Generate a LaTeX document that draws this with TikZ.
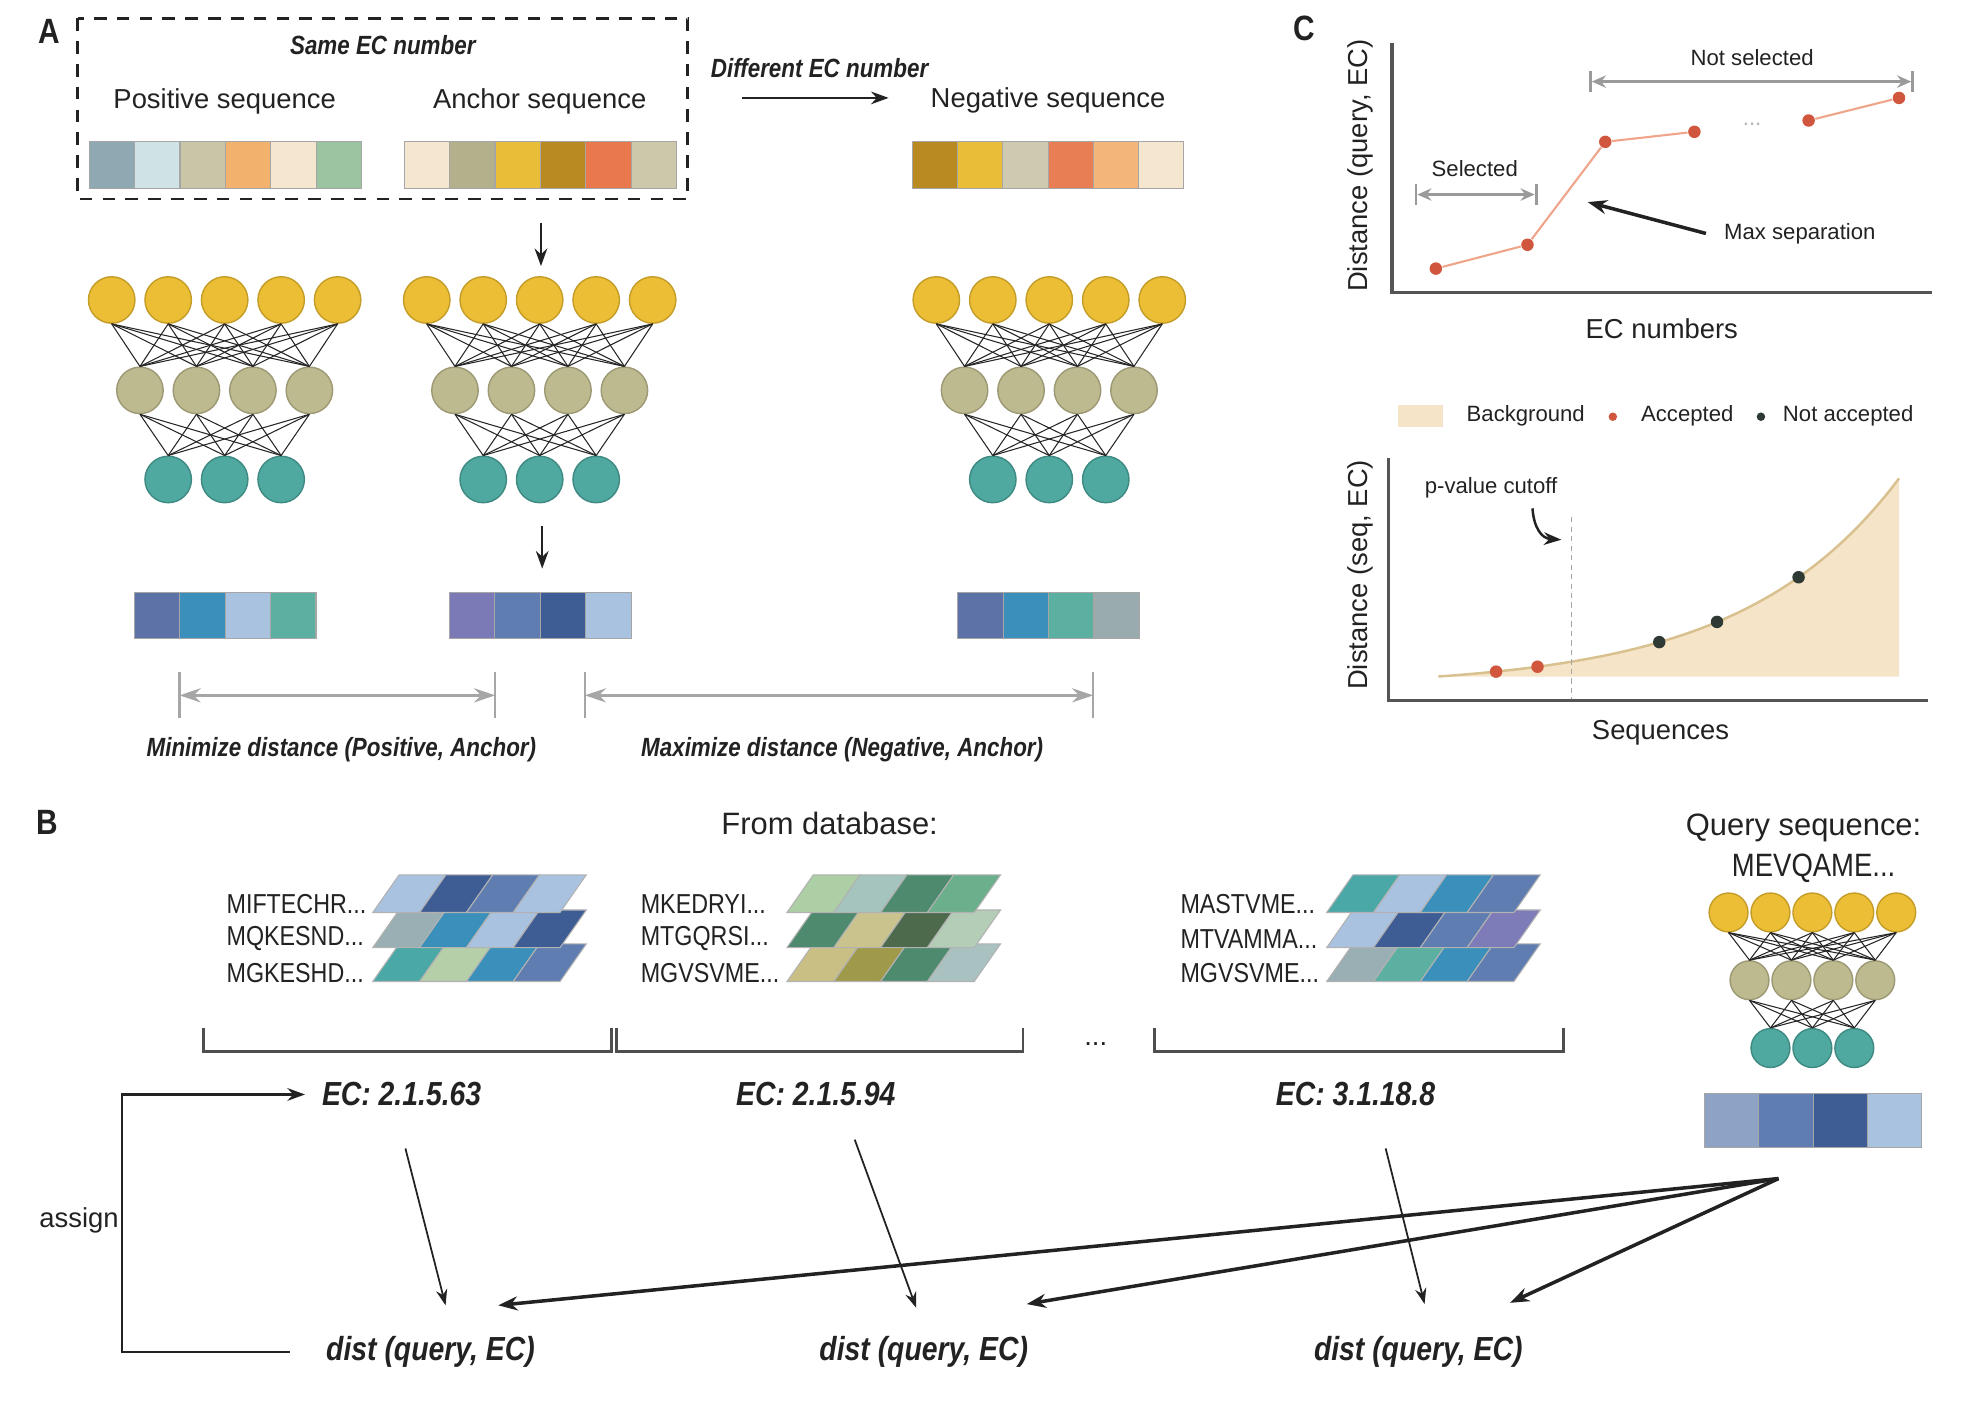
\documentclass[tikz,border=0pt]{standalone}
\usepackage{fontspec}
\setmainfont{Liberation Sans}
\newfontfamily\narrowsans[FakeStretch=0.85]{Liberation Sans}
\usetikzlibrary{arrows.meta}

% palette
\definecolor{ink}{HTML}{222222}
\definecolor{gold}{HTML}{EBBE35}
\definecolor{golddk}{HTML}{C49C28}
\definecolor{khaki}{HTML}{BDBA90}
\definecolor{khakidk}{HTML}{9C9974}
\definecolor{tealU}{HTML}{4FA9A0}
\definecolor{tealdk}{HTML}{3E8A83}
\definecolor{sGrey}{HTML}{8FA9B3}
\definecolor{sIce}{HTML}{CFE2E6}
\definecolor{sSand}{HTML}{C9C6A8}
\definecolor{sApricot}{HTML}{F2B26E}
\definecolor{sCream}{HTML}{F5E7CF}
\definecolor{sSage}{HTML}{9CC4A0}
\definecolor{sOlive}{HTML}{B3B08C}
\definecolor{sYellow}{HTML}{E9BD38}
\definecolor{sMustard}{HTML}{B98A22}
\definecolor{sCoral}{HTML}{E9784C}
\definecolor{sKhaki}{HTML}{CDC8A9}
\definecolor{sStone}{HTML}{CDCAB0}
\definecolor{sSalmon}{HTML}{E87E54}
\definecolor{sPeach}{HTML}{F3B578}
\definecolor{eSlate}{HTML}{5D72A6}
\definecolor{eBlue}{HTML}{3A90BA}
\definecolor{eSky}{HTML}{A9C2DF}
\definecolor{eTeal}{HTML}{5BB0A2}
\definecolor{ePurple}{HTML}{7B7AB6}
\definecolor{eMid}{HTML}{5F7DB1}
\definecolor{eNavy}{HTML}{3F5D95}
\definecolor{eGrey}{HTML}{9AABB0}
\definecolor{eMist}{HTML}{8EA2C6}
\definecolor{eSea}{HTML}{4AA8A6}
\definecolor{eLime}{HTML}{B5CFA8}
\definecolor{eMint}{HTML}{ADCFA5}
\definecolor{eAqua}{HTML}{A5C4BE}
\definecolor{eForest}{HTML}{4E8A6E}
\definecolor{eJade}{HTML}{6CAF8C}
\definecolor{eWheat}{HTML}{CAC38E}
\definecolor{eMoss}{HTML}{4D6A4D}
\definecolor{eFog}{HTML}{B3CDB7}
\definecolor{eStraw}{HTML}{C9BF85}
\definecolor{eOlive}{HTML}{9F9A49}
\definecolor{eHaze}{HTML}{A9C1C1}
\definecolor{eLilac}{HTML}{7D7BB8}
\definecolor{eSteel}{HTML}{9AAFB4}
\definecolor{cDot}{HTML}{D0573D}
\definecolor{cLine}{HTML}{F0A58A}
\definecolor{cBg}{HTML}{F6E4C8}
\definecolor{cCurve}{HTML}{D8C08F}
\definecolor{cDark}{HTML}{2E3A33}
\definecolor{cAxis}{HTML}{555555}
\definecolor{cGrey}{HTML}{9A9A9A}

\tikzset{
  txt/.style={inner sep=0pt,text=ink,font=\fontsize{7.8}{9}\selectfont},
  head/.style={txt,font=\fontsize{8.8}{10}\selectfont},
  smalltxt/.style={txt,font=\fontsize{6.3}{7.5}\selectfont},
  emA/.style={txt,font=\narrowsans\bfseries\itshape\fontsize{7.5}{9}\selectfont},
  emB/.style={txt,font=\narrowsans\bfseries\itshape\fontsize{9.5}{11}\selectfont},
  seqname/.style={txt,anchor=west,font=\narrowsans\fontsize{7.8}{9}\selectfont},
  seqQ/.style={txt,font=\narrowsans\fontsize{9.2}{11}\selectfont},
  panel/.style={txt,font=\narrowsans\bfseries\fontsize{10}{12}\selectfont},
  cellA/.style={rectangle,inner sep=0pt,draw=black!35,line width=0.3pt,
    minimum width=0.454cm,minimum height=0.471cm},
  cellO/.style={cellA,minimum height=0.464cm},
  cellQ/.style={cellA,minimum width=0.543cm,minimum height=0.540cm},
  tile/.style={draw=black!30,line width=0.3pt},
  unitA/.style={circle,inner sep=0pt,minimum size=0.465cm,line width=0.4pt},
  unitQ/.style={unitA,minimum size=0.389cm},
  inL/.style={fill=gold,draw=golddk},
  hidL/.style={fill=khaki,draw=khakidk},
  outL/.style={fill=tealU,draw=tealdk},
  wire/.style={draw=black!85,line width=0.3pt},
  arr/.style={-{Stealth[length=5pt,width=3.6pt]},line width=0.7pt,draw=ink},
  thinarr/.style={-{Stealth[length=4.5pt,width=3.2pt]},line width=0.5pt,draw=ink},
  bigarr/.style={-{Stealth[length=5.5pt,width=4pt]},line width=1pt,draw=ink},
  gap/.style={<->,>={Stealth[length=6pt,width=4pt]},draw=gray!70,line width=0.9pt},
  gaptick/.style={draw=gray!70,line width=0.6pt},
  span/.style={|<->|,>={Stealth[length=4pt,width=3.5pt]},draw=cGrey,line width=0.8pt},
  brk/.style={draw=ink!80,line width=0.8pt},
  dashbox/.style={draw=ink,line width=0.8pt,dash pattern=on 3.6pt off 2.9pt},
  axis/.style={draw=cAxis,line width=0.9pt},
  ecdot/.style={circle,fill=cDot,inner sep=0pt,minimum size=0.125cm},
  nadot/.style={circle,fill=cDark,inner sep=0pt,minimum size=0.125cm},
  ecline/.style={draw=cLine,line width=0.6pt}
}

\begin{document}
\begin{tikzpicture}[x=0.012551cm,y=-0.012551cm]
\useasboundingbox (0,0) rectangle (1568,1131);

% ---------- A ----------
\node[panel] (lA) at (39,25) {A};
\draw[dashbox] (62,14.5) rectangle (548,158.5);
\node[emA] (same) at (305,36) {Same EC number};
\node[txt] (posl) at (179,81) {Positive sequence};
\node[txt] (ancl) at (430,81) {Anchor sequence};
\node[emA] (diff) at (653,54) {Different EC number};
\node[txt] (negl) at (835,80) {Negative sequence};
\coordinate (diff0) at (591,78);
\coordinate (diff1) at (708,78);
\draw[arr] (diff0) -- (diff1);

\foreach \c [count=\i] in {sGrey,sIce,sSand,sApricot,sCream,sSage}
  \node[cellA,fill=\c] (ps\i) at ({89.1+(\i-1)*36.2},131.7) {};
\foreach \c [count=\i] in {sCream,sOlive,sYellow,sMustard,sCoral,sKhaki}
  \node[cellA,fill=\c] (as\i) at ({340.1+(\i-1)*36.2},131.7) {};
\foreach \c [count=\i] in {sMustard,sYellow,sStone,sSalmon,sPeach,sCream}
  \node[cellA,fill=\c] (ns\i) at ({745.1+(\i-1)*36},131.7) {};

% encoders
\foreach \n/\cx in {p/179,a/430,g/836}{
  \foreach \i in {1,...,5}
    \node[unitA,inL] (\n-t\i) at ({\cx+(\i-3)*45},239) {};
  \foreach \i in {1,...,4}
    \node[unitA,hidL] (\n-m\i) at ({\cx+(\i-2.5)*45},311) {};
  \foreach \i in {1,...,3}
    \node[unitA,outL] (\n-b\i) at ({\cx+(\i-2)*45},382) {};
  \foreach \i in {1,...,5}
    \foreach \j in {1,...,4}
      \draw[wire] (\n-t\i.south) -- (\n-m\j.north);
  \foreach \i in {1,...,4}
    \foreach \j in {1,...,3}
      \draw[wire] (\n-m\i.south) -- (\n-b\j.north);
}
\coordinate (feed0) at (431,178);
\coordinate (feed1) at (431,212);
\draw[arr] (feed0) -- (feed1);
\coordinate (emb0) at (432,419);
\coordinate (emb1) at (432,453);
\draw[arr] (emb0) -- (emb1);

\foreach \c [count=\i] in {eSlate,eBlue,eSky,eTeal}
  \node[cellO,fill=\c] (po\i) at ({125.1+(\i-1)*36.2},490.5) {};
\foreach \c [count=\i] in {ePurple,eMid,eNavy,eSky}
  \node[cellO,fill=\c] (ao\i) at ({376.1+(\i-1)*36.2},490.5) {};
\foreach \c [count=\i] in {eSlate,eBlue,eTeal,eGrey}
  \node[cellO,fill=\c] (no\i) at ({781.1+(\i-1)*36.2},490.5) {};

\coordinate (mn0) at (143,554);
\coordinate (mn1) at (394.6,554);
\coordinate (mx0) at (466,554);
\coordinate (mx1) at (871,554);
\foreach \t in {mn0,mn1,mx0,mx1}
  \draw[gaptick] (\t) ++(0,-19) -- ++(0,37);
\draw[gap] (mn0) -- (mn1);
\draw[gap] (mx0) -- (mx1);
\node[emA] (minl) at (272,597) {Minimize distance (Positive, Anchor)};
\node[emA] (maxl) at (671,597) {Maximize distance (Negative, Anchor)};

% ---------- B ----------
\node[panel] (lB) at (38,655) {B};
\node[head] (fromdb) at (661,656) {From database:};
\node[head] (qseq) at (1437,660) {Query sequence:};
\node[seqQ] (qname) at (1445,692) {MEVQAME...};

\node[seqname] (s11) at (180,720) {MIFTECHR...};
\node[seqname] (s12) at (180,748) {MQKESND...};
\node[seqname] (s13) at (180,775) {MGKESHD...};
\node[seqname] (s21) at (510,720) {MKEDRYI...};
\node[seqname] (s22) at (510,748) {MTGQRSI...};
\node[seqname] (s23) at (510,775) {MGVSVME...};
\node[seqname] (s31) at (940,720) {MASTVME...};
\node[seqname] (s32) at (940,748) {MTVAMMA...};
\node[seqname] (s33) at (940,775) {MGVSVME...};

% stacked embeddings, bottom row first
\foreach \c [count=\i from 0] in {eSea,eLime,eBlue,eMid}
  \filldraw[tile,fill=\c] ({297+\i*37.3},782) -- ++(37.3,0) -- ++(21,-30) -- ++(-37.3,0) -- cycle;
\foreach \c [count=\i from 0] in {eSteel,eBlue,eSky,eNavy}
  \filldraw[tile,fill=\c] ({297+\i*37.3},755) -- ++(37.3,0) -- ++(21,-30) -- ++(-37.3,0) -- cycle;
\foreach \c [count=\i from 0] in {eSky,eNavy,eMid,eSky}
  \filldraw[tile,fill=\c] ({297+\i*37.3},727) -- ++(37.3,0) -- ++(21,-30) -- ++(-37.3,0) -- cycle;
\foreach \c [count=\i from 0] in {eStraw,eOlive,eForest,eHaze}
  \filldraw[tile,fill=\c] ({627+\i*37.3},782) -- ++(37.3,0) -- ++(21,-30) -- ++(-37.3,0) -- cycle;
\foreach \c [count=\i from 0] in {eForest,eWheat,eMoss,eFog}
  \filldraw[tile,fill=\c] ({627+\i*37.3},755) -- ++(37.3,0) -- ++(21,-30) -- ++(-37.3,0) -- cycle;
\foreach \c [count=\i from 0] in {eMint,eAqua,eForest,eJade}
  \filldraw[tile,fill=\c] ({627+\i*37.3},727) -- ++(37.3,0) -- ++(21,-30) -- ++(-37.3,0) -- cycle;
\foreach \c [count=\i from 0] in {eSteel,eTeal,eBlue,eMid}
  \filldraw[tile,fill=\c] ({1057+\i*37.3},782) -- ++(37.3,0) -- ++(21,-30) -- ++(-37.3,0) -- cycle;
\foreach \c [count=\i from 0] in {eSky,eNavy,eMid,eLilac}
  \filldraw[tile,fill=\c] ({1057+\i*37.3},755) -- ++(37.3,0) -- ++(21,-30) -- ++(-37.3,0) -- cycle;
\foreach \c [count=\i from 0] in {eSea,eSky,eBlue,eMid}
  \filldraw[tile,fill=\c] ({1057+\i*37.3},727) -- ++(37.3,0) -- ++(21,-30) -- ++(-37.3,0) -- cycle;

\draw[brk] (162,819) |- (487,838) -- (487,819);
\draw[brk] (491,819) |- (815,838) -- (815,819);
\draw[brk] (920,819) |- (1246,838) -- (1246,819);
\node[txt] (more) at (873,832) {...};

\node[emB] (ec1) at (320,872) {EC: 2.1.5.63};
\node[emB] (ec2) at (650,872) {EC: 2.1.5.94};
\node[emB] (ec3) at (1080,872) {EC: 3.1.18.8};
\node[emB] (dist1) at (343,1077) {dist (query, EC)};
\node[emB] (dist2) at (736,1077) {dist (query, EC)};
\node[emB] (dist3) at (1130,1077) {dist (query, EC)};

% query encoder
\foreach \i in {1,...,5}
  \node[unitQ,inL] (q-t\i) at ({1444+(\i-3)*33.4},727) {};
\foreach \i in {1,...,4}
  \node[unitQ,hidL] (q-m\i) at ({1444+(\i-2.5)*33.4},781) {};
\foreach \i in {1,...,3}
  \node[unitQ,outL] (q-b\i) at ({1444+(\i-2)*33.4},835) {};
\foreach \i in {1,...,5}
  \foreach \j in {1,...,4}
    \draw[wire] (q-t\i.south) -- (q-m\j.north);
\foreach \i in {1,...,4}
  \foreach \j in {1,...,3}
    \draw[wire] (q-m\i.south) -- (q-b\j.north);
\foreach \c [count=\i] in {eMist,eMid,eNavy,eSky}
  \node[cellQ,fill=\c] (qo\i) at ({1379.65+(\i-1)*43.3},892.5) {};

\coordinate (ecA0) at (323,915);
\coordinate (ecA1) at (355,1040);
\coordinate (ecB0) at (681,908);
\coordinate (ecB1) at (730,1042);
\coordinate (ecC0) at (1104,915);
\coordinate (ecC1) at (1135,1039);
\draw[thinarr] (ecA0) -- (ecA1);
\draw[thinarr] (ecB0) -- (ecB1);
\draw[thinarr] (ecC0) -- (ecC1);
\coordinate (qsrc) at (1417,939);
\coordinate (qA) at (397,1040);
\coordinate (qB) at (818,1039);
\coordinate (qC) at (1203,1038);
\draw[bigarr] (qsrc) -- (qA);
\draw[bigarr] (qsrc) -- (qB);
\draw[bigarr] (qsrc) -- (qC);

\coordinate (as1) at (231,1077);
\coordinate (as2) at (97,1077);
\coordinate (as3) at (97,872);
\coordinate (as4) at (243,872);
\draw[arr] (as1) -- (as2) -- (as3) -- (as4);
\node[txt] (asgn) at (63,972) {assign};

% ---------- C ----------
\node[panel] (lC) at (1039,23) {C};
\draw[axis] (1109,34) -- (1109,233) -- (1539,233);
\node[txt,rotate=90] (yl1) at (1084,132) {Distance (query, EC)};
\node[txt] (xl1) at (1324,262) {EC numbers};
\node[ecdot] (c1) at (1144,214) {};
\node[ecdot] (c2) at (1217,195) {};
\node[ecdot] (c3) at (1279,113) {};
\node[ecdot] (c4) at (1350,105) {};
\node[ecdot] (c5) at (1441,96) {};
\node[ecdot] (c6) at (1513,78) {};
\draw[ecline] (c1) -- (c2) -- (c3) -- (c4);
\draw[ecline] (c5) -- (c6);
\node[smalltxt,text=gray!60] (cdots) at (1396,99) {...};
\node[smalltxt] (sel) at (1175,134) {Selected};
\coordinate (sel0) at (1127,155);
\coordinate (sel1) at (1225,155);
\draw[span] (sel0) -- (sel1);
\node[smalltxt] (nsel) at (1396,46) {Not selected};
\coordinate (nsel0) at (1266,65);
\coordinate (nsel1) at (1525,65);
\draw[span] (nsel0) -- (nsel1);
\node[smalltxt] (maxsep) at (1434,186) {Max separation};
\coordinate (gapend) at (1265,161);
\draw[bigarr] ([xshift=-5pt]maxsep.west) -- (gapend);

\node[rectangle,fill=cBg,inner sep=0pt,minimum width=0.452cm,minimum height=0.213cm] (bgkey) at (1132,331.5) {};
\node[smalltxt,anchor=west] (bgl) at (1168,331.5) {Background};
\node[circle,fill=cDot,inner sep=0pt,minimum size=0.085cm] (acckey) at (1285,332) {};
\node[smalltxt,anchor=west] (accl) at (1307,331.5) {Accepted};
\node[circle,fill=cDark,inner sep=0pt,minimum size=0.085cm] (nakey) at (1403,332) {};
\node[smalltxt,anchor=west] (nal) at (1420,331.5) {Not accepted};

\fill[cBg] (1146,539) -- plot[domain=1146:1513,samples=60] (\x,{539-8.86*(exp(0.008*(\x-1146))-1)}) -- (1513,539) -- cycle;
\draw[cCurve,line width=0.7pt] plot[domain=1146:1513,samples=60] (\x,{539-8.86*(exp(0.008*(\x-1146))-1)});
\draw[gray!70,line width=0.5pt,dash pattern=on 1.5pt off 1.2pt] (1252,412) -- (1252,558);
\draw[axis] (1106,365) -- (1106,558) -- (1536,558);
\node[txt,rotate=90] (yl2) at (1084,458) {Distance (seq, EC)};
\node[txt] (xl2) at (1323,584) {Sequences};
\node[smalltxt] (pval) at (1188,389) {p-value cutoff};
\coordinate (pv0) at (1221,405);
\coordinate (pv1) at (1244,430);
\draw[arr] (pv0) .. controls (1222,420) and (1228,429) .. (pv1);
\node[ecdot] (s1) at (1192,535.1) {};
\node[ecdot] (s2) at (1225,531.2) {};
\node[nadot] (s3) at (1322,511.6) {};
\node[nadot] (s4) at (1368,495.5) {};
\node[nadot] (s5) at (1433,459.9) {};
\end{tikzpicture}
\end{document}
